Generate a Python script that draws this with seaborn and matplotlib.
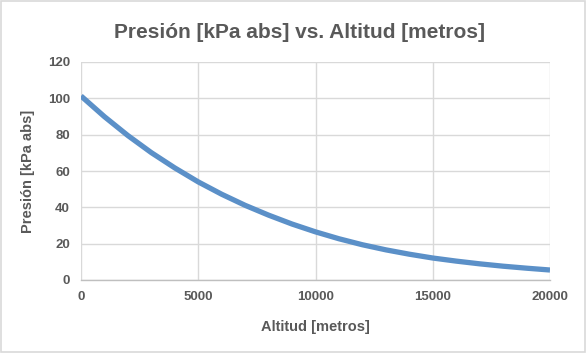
import matplotlib
matplotlib.use("Agg")
import matplotlib.pyplot as plt
import seaborn as sns
import pandas as pd
from matplotlib.patches import Rectangle

altitud = [0, 1000, 2000, 3000, 4000, 5000, 6000, 7000, 8000, 9000, 10000,
           11000, 12000, 13000, 14000, 15000, 16000, 17000, 18000, 19000, 20000]
presion = [101.3, 89.9, 79.5, 70.1, 61.7, 54.0, 47.2, 41.1, 35.7, 30.8, 26.5,
           22.7, 19.4, 16.6, 14.2, 12.1, 10.4, 8.9, 7.6, 6.5, 5.5]
x_ticks = [0, 5000, 10000, 15000, 20000]
y_ticks = [0, 20, 40, 60, 80, 100, 120]

sns.set_theme(style="white")
plt.rcParams['font.family'] = ['Liberation Sans', 'DejaVu Sans']

df = pd.DataFrame({"Altitud": altitud, "Presion": presion})

fig = plt.figure(figsize=(5.87, 3.53), dpi=100)
ax = fig.add_axes([81/587, 1 - 280/353, (550-81)/587, (280-62)/353])

sns.lineplot(data=df, x="Altitud", y="Presion", ax=ax, color="#5B90C8",
             linewidth=3.8, solid_capstyle="butt")

ax.set_xlim(0, 20000)
ax.set_ylim(0, 120)
ax.set_xticks(x_ticks)
ax.set_yticks(y_ticks)
ax.grid(True, color="#D9D9D9", linewidth=1)
ax.set_axisbelow(True)
for s in ["top", "right", "left"]:
    ax.spines[s].set_visible(False)
ax.spines["bottom"].set_color("#BFBFBF")
ax.spines["bottom"].set_linewidth(1)

ax.tick_params(axis="both", length=0, labelsize=9.5, labelcolor="#595959", pad=8)
for lab in ax.get_xticklabels() + ax.get_yticklabels():
    lab.set_fontweight("bold")

ax.set_xlabel("Altitud [metros]", fontsize=10.5, fontweight="bold", color="#595959", labelpad=12)
ax.set_ylabel("Presión [kPa abs]", fontsize=10.5, fontweight="bold", color="#595959", labelpad=9)

fig.text(300/587, 1 - 32/353, "Presión [kPa abs] vs. Altitud [metros]", ha="center", va="center",
         fontsize=15, fontweight="bold", color="#595959")

fig.patches.append(Rectangle((0.002, 0.003), 0.995, 0.993, transform=fig.transFigure,
                             fill=False, edgecolor="#D9D9D9", linewidth=1.2))

fig.savefig("out.png", dpi=100)
